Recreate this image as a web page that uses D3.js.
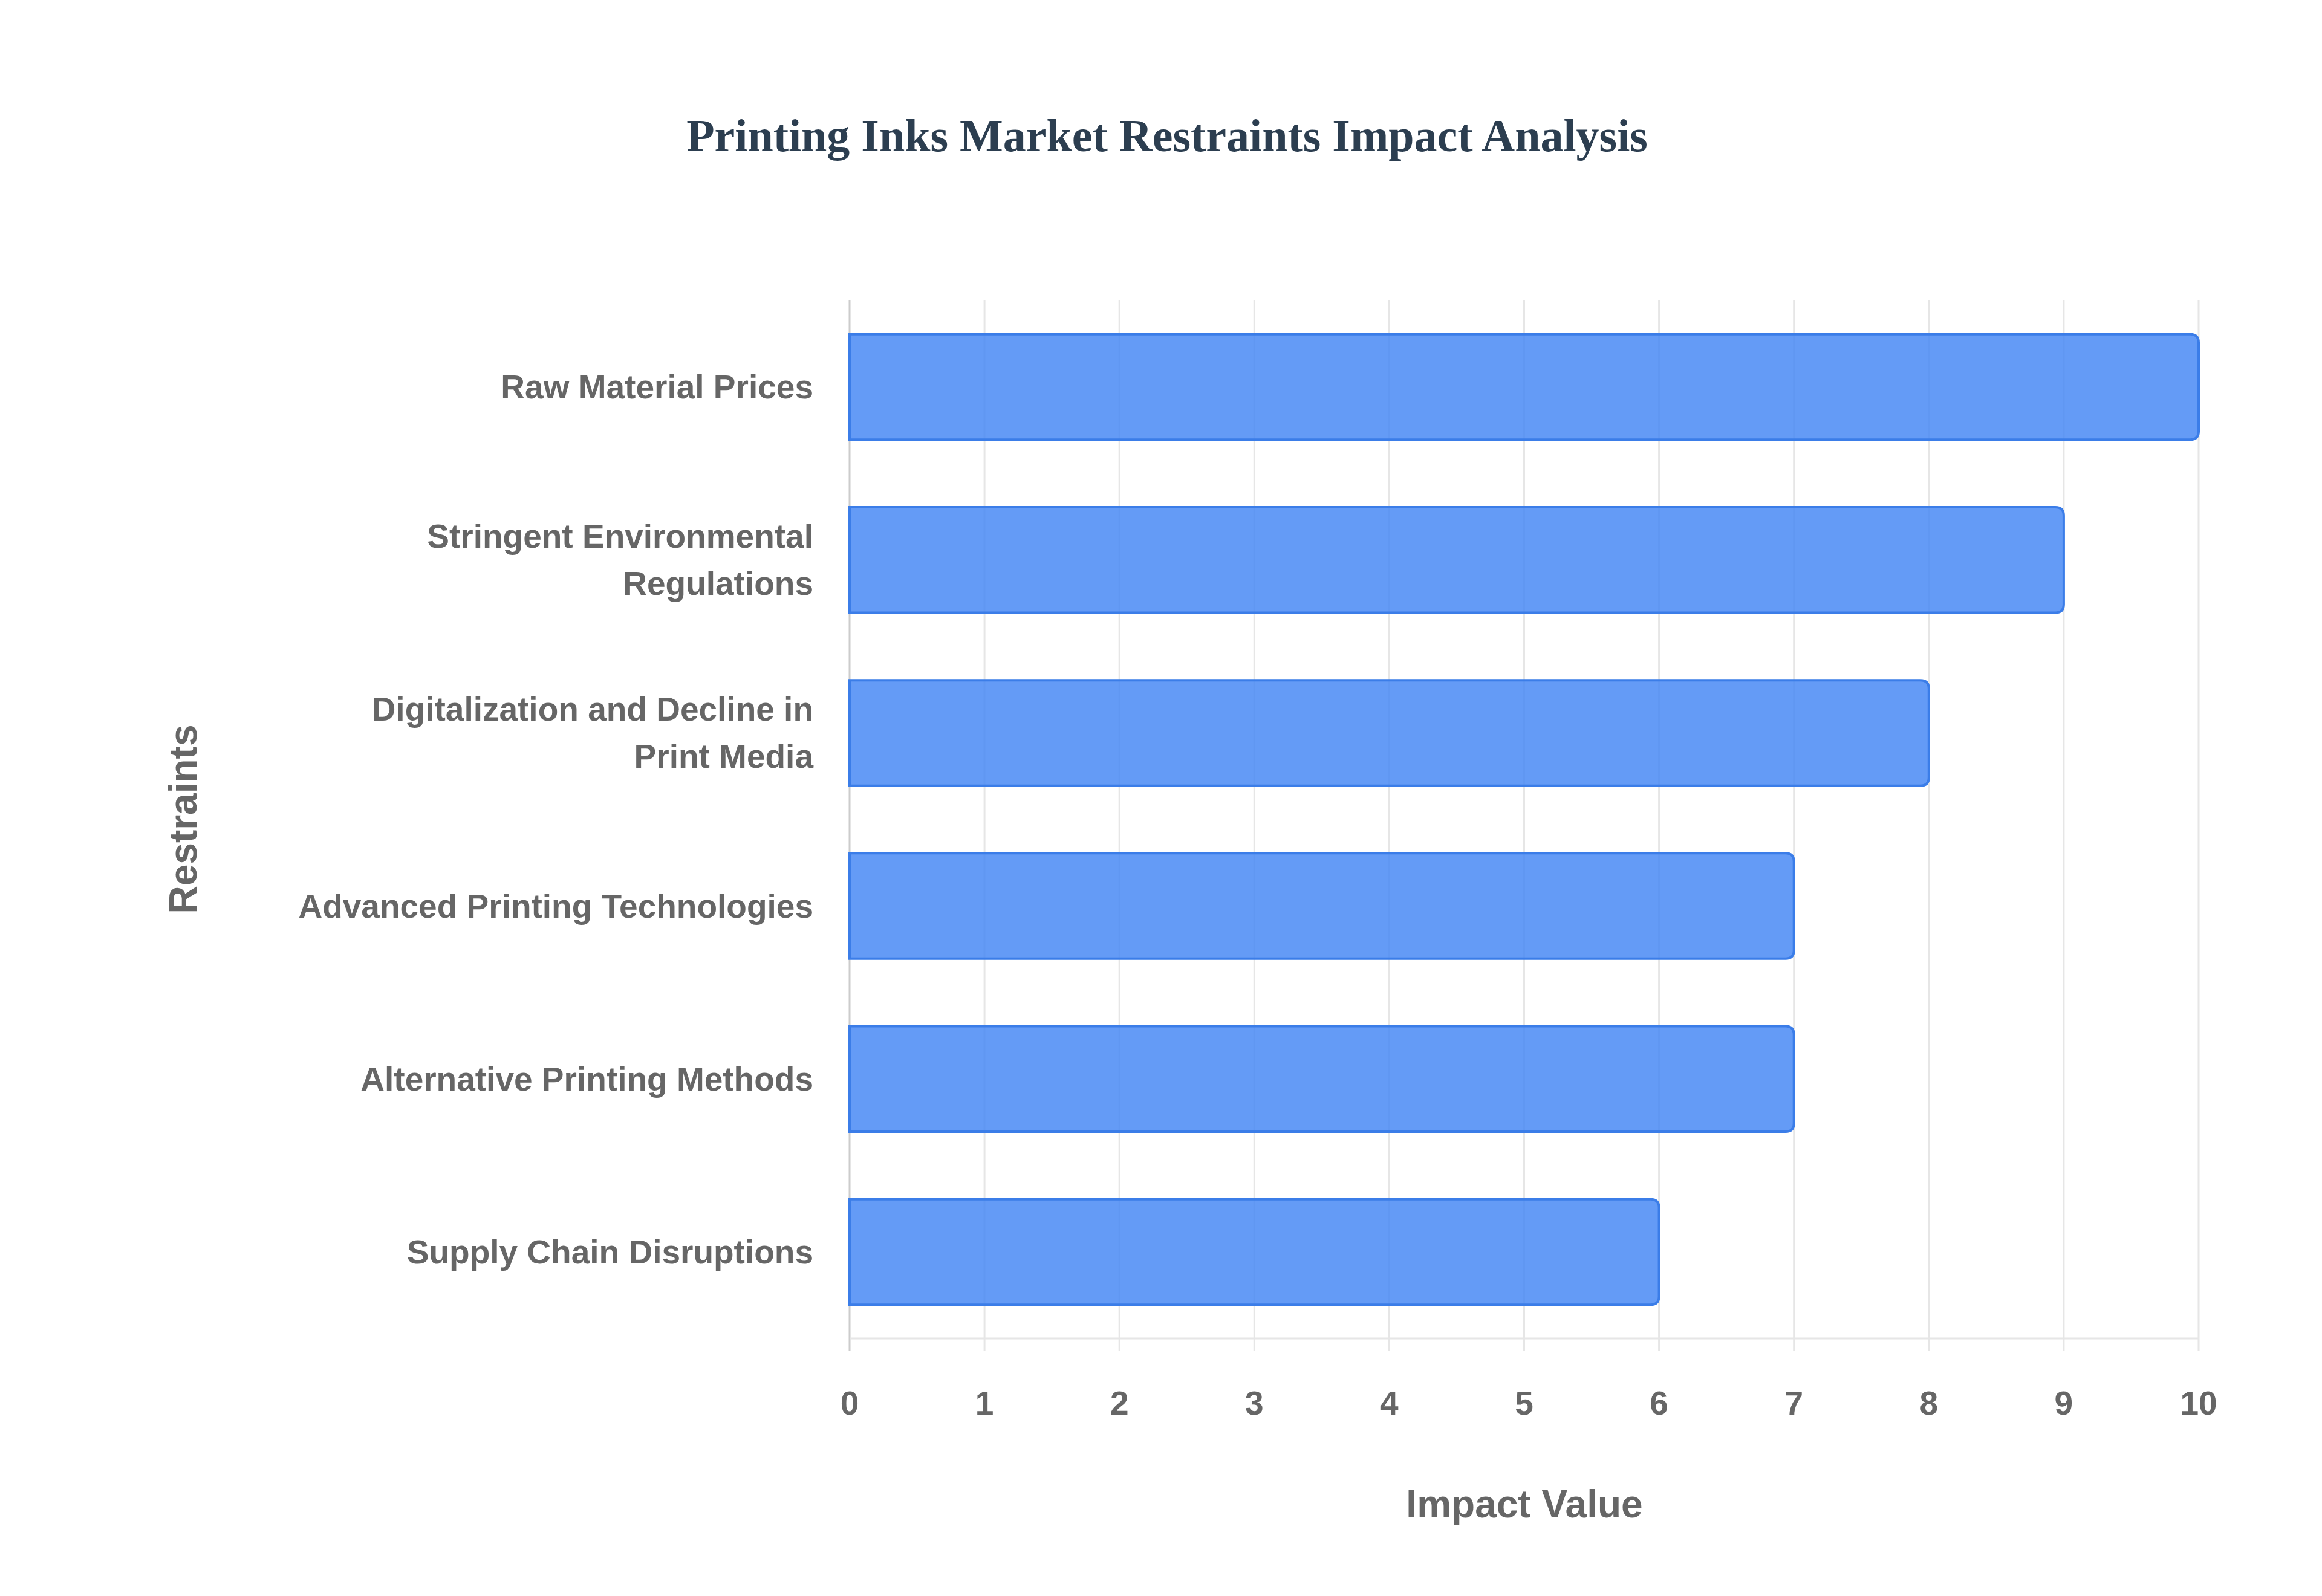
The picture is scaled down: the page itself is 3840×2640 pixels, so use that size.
<!DOCTYPE html>
<html><head><meta charset="utf-8">
<script src="https://cdn.jsdelivr.net/npm/d3@7"></script>
<style>body{margin:0;background:#fff}</style>
</head><body>
<script>
var categories=[['Raw Material Prices'],['Stringent Environmental','Regulations'],['Digitalization and Decline in','Print Media'],['Advanced Printing Technologies'],['Alternative Printing Methods'],['Supply Chain Disruptions']];
var values=[10,9,8,7,7,6];
var ticks=[0,1,2,3,4,5,6,7,8,9,10];

var W=3840,H=2640;
var m={left:1405,right:3636,top:497,bottom:2214};
var svg=d3.select('body').append('svg').attr('width',W).attr('height',H);
var font='"Liberation Sans", Arial, sans-serif';

var x=d3.scaleLinear().domain([0,10]).range([m.left,m.right]);
var y=d3.scaleBand().domain(d3.range(categories.length)).range([m.top,m.bottom]).paddingInner(0.39).paddingOuter(0.195);

svg.append('text').attr('x',1930).attr('y',250).attr('text-anchor','middle')
  .style('font-family','"Liberation Serif", "Times New Roman", serif').style('font-weight','bold')
  .style('font-size','76px').style('fill','#2c3e50').text('Printing Inks Market Restraints Impact Analysis');

// grid
svg.selectAll('.grid').data(ticks).enter().append('line')
  .attr('x1',function(d){return x(d);}).attr('x2',function(d){return x(d);})
  .attr('y1',m.top).attr('y2',m.bottom+20)
  .style('stroke',function(d){return d==0?'#cccccc':'#e6e6e6';}).style('stroke-width',3);
svg.append('line').attr('x1',m.left).attr('x2',m.right).attr('y1',m.bottom).attr('y2',m.bottom)
  .style('stroke','#e6e6e6').style('stroke-width',3);

// bars, right corners rounded
var r=14;
svg.selectAll('.bar').data(values).enter().append('path')
  .attr('d',function(d,i){
    var x0=x(0),x1=x(d),y0=y(i),h=y.bandwidth();
    return 'M'+x0+','+y0+'H'+(x1-r)+'Q'+x1+','+y0+' '+x1+','+(y0+r)+'V'+(y0+h-r)+'Q'+x1+','+(y0+h)+' '+(x1-r)+','+(y0+h)+'H'+x0+'Z';
  })
  .style('fill','rgba(66,133,244,0.82)').style('stroke','#3b7de8').style('stroke-width',4);

// category labels
svg.selectAll('.cat').data(categories).enter().append('text')
  .attr('text-anchor','end').attr('x',m.left-60)
  .attr('y',function(d,i){return y(i)+y.bandwidth()/2-(d.length-1)*39+19;})
  .style('font-family',font).style('font-weight','bold').style('font-size','55px').style('fill','#666')
  .each(function(d){
    var t=d3.select(this);
    d.forEach(function(s,k){t.append('tspan').attr('x',m.left-60).attr('dy',k?78:0).text(s);});
  });

// ticks
svg.selectAll('.tick').data(ticks).enter().append('text')
  .attr('x',function(d){return x(d);}).attr('y',2340).attr('text-anchor','middle')
  .style('font-family',font).style('font-weight','bold').style('font-size','55px').style('fill','#666')
  .text(function(d){return d;});

svg.append('text').attr('x',2521).attr('y',2510).attr('text-anchor','middle')
  .style('font-family',font).style('font-weight','bold').style('font-size','64px').style('fill','#666').text('Impact Value');
svg.append('text').attr('transform','translate(325,1355) rotate(-90)').attr('text-anchor','middle')
  .style('font-family',font).style('font-weight','bold').style('font-size','64px').style('fill','#666').text('Restraints');
</script>
</body></html>
